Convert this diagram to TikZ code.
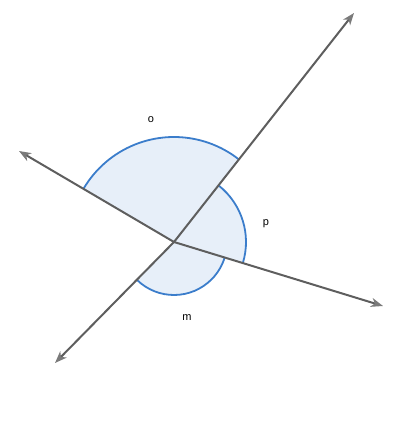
\documentclass[tikz,border=0pt]{standalone}
\usepackage{fontspec}
\setmainfont{Liberation Sans}
\usetikzlibrary{arrows.meta}
\definecolor{raygray}{HTML}{5E5E5E}
\definecolor{tipgray}{HTML}{7A7A7A}
\definecolor{arcblue}{HTML}{3B7DCB}
\definecolor{arcfill}{HTML}{E7EFF9}
\tikzset{
  ray/.style={draw=raygray, line width=2pt, -{Stealth[length=12pt,width=9pt,inset=3.5pt,color=tipgray]}},
  sector/.style={fill=arcfill},
  arcline/.style={draw=arcblue, line width=1.8pt},
  lbl/.style={font=\fontsize{11}{13}\selectfont, text=black}
}
\begin{document}
\begin{tikzpicture}[x=1pt,y=1pt]
\useasboundingbox (0,0) rectangle (412,425);
\coordinate (O) at (174,183);
\coordinate (A) at (354,412);
\coordinate (B) at (55,62);
\coordinate (L) at (19,274);
\coordinate (R) at (383,119);
% sectors
\fill[sector] (O) -- ++(51.8:105) arc[start angle=51.8, end angle=149.6, radius=105] -- cycle;
\fill[sector] (O) -- ++(-17:72) arc[start angle=-17, end angle=51.8, radius=72] -- cycle;
\fill[sector] (O) -- ++(-134.5:53) arc[start angle=-134.5, end angle=-17, radius=53] -- cycle;
\draw[arcline] (O) ++(51.8:105) arc[start angle=51.8, end angle=149.6, radius=105];
\draw[arcline] (O) ++(-17:72) arc[start angle=-17, end angle=51.8, radius=72];
\draw[arcline] (O) ++(-134.5:53) arc[start angle=-134.5, end angle=-17, radius=53];
% rays
\draw[ray] (O) -- (A);
\draw[ray] (O) -- (B);
\draw[ray] (O) -- (L);
\draw[ray] (O) -- (R);
% labels
\node[lbl] (lo) at (151,305) {o};
\node[lbl] (lp) at (266,201) {p};
\node[lbl] (lm) at (187,107) {m};
\end{tikzpicture}
\end{document}
